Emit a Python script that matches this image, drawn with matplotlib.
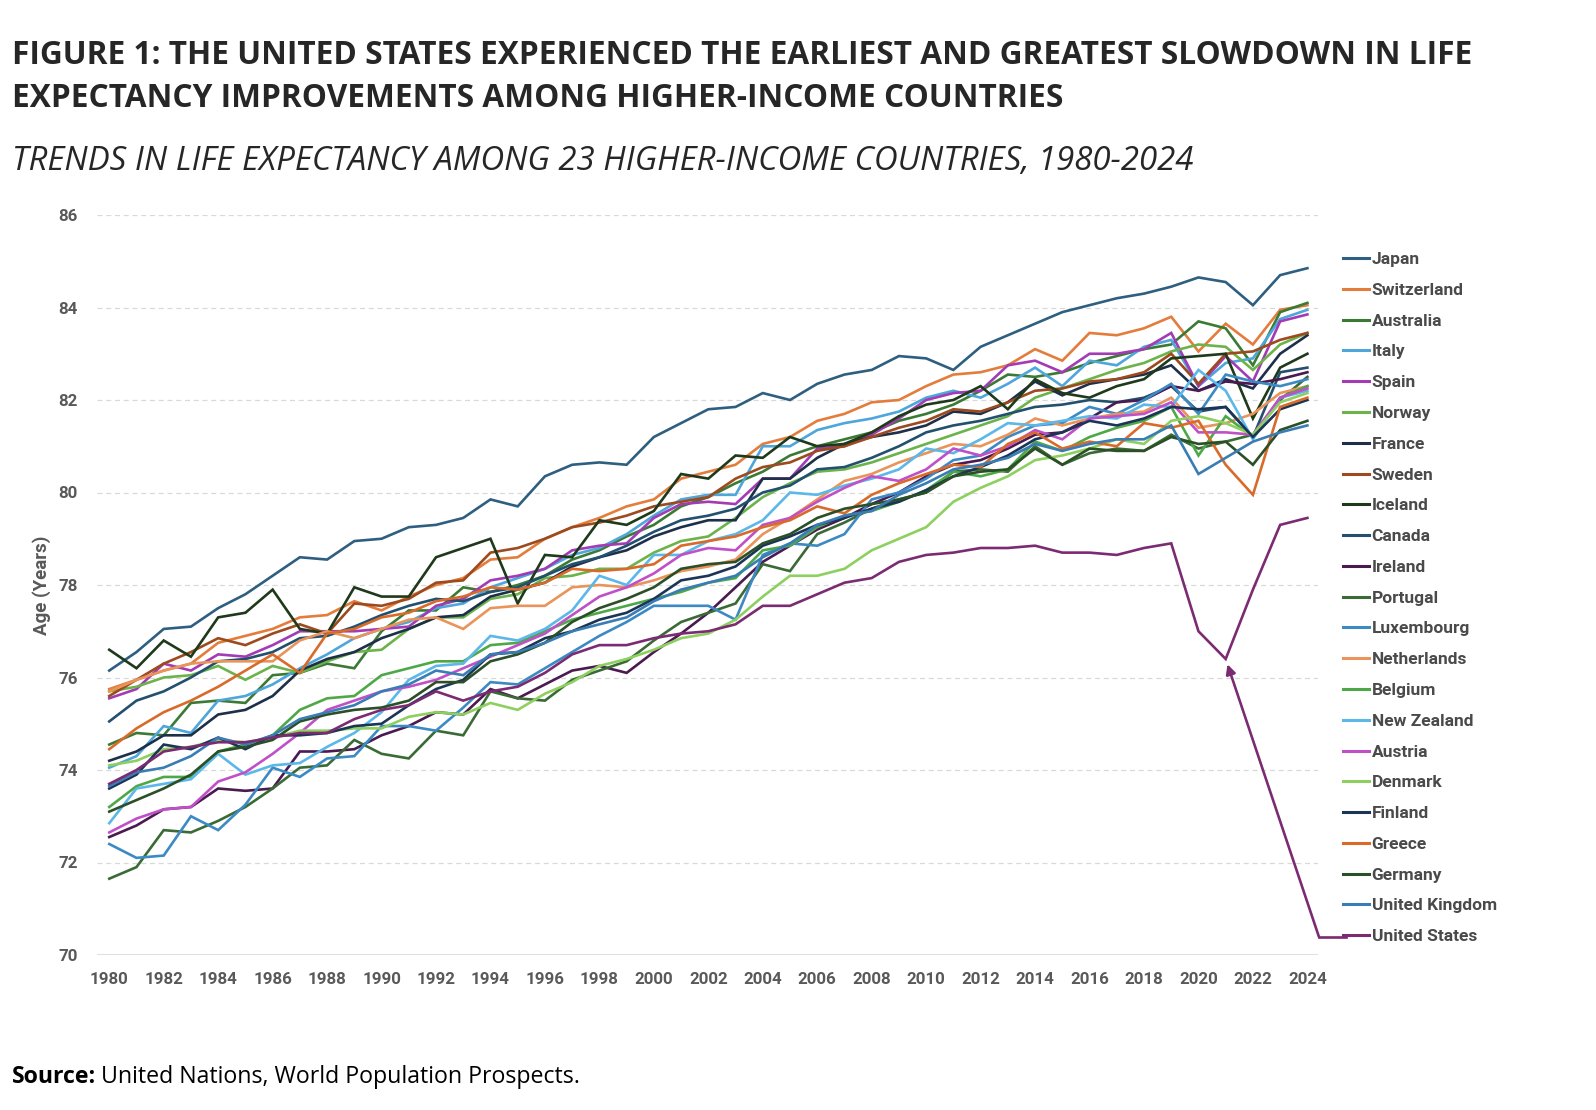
import numpy as np
import matplotlib
matplotlib.use('Agg')
import matplotlib.pyplot as plt
from matplotlib.lines import Line2D

# Years on the x axis
years = list(range(1980, 2025))

# Life expectancy per country, 1980-2024
japan = [76.15, 76.55, 77.05, 77.10, 77.50, 77.80, 78.20, 78.60, 78.55, 78.95,
         79.00, 79.25, 79.30, 79.45, 79.85, 79.70, 80.35, 80.60, 80.65, 80.60,
         81.20, 81.50, 81.80, 81.85, 82.15, 82.00, 82.35, 82.55, 82.65, 82.95,
         82.90, 82.65, 83.15, 83.40, 83.65, 83.90, 84.05, 84.20, 84.30, 84.45,
         84.65, 84.55, 84.05, 84.70, 84.85]
switzerland = [75.75, 75.95, 76.15, 76.30, 76.75, 76.90, 77.05, 77.30, 77.35, 77.65,
               77.45, 77.75, 78.00, 78.15, 78.55, 78.60, 79.00, 79.25, 79.45, 79.70,
               79.85, 80.30, 80.45, 80.60, 81.05, 81.20, 81.55, 81.70, 81.95, 82.00,
               82.30, 82.55, 82.60, 82.75, 83.10, 82.85, 83.45, 83.40, 83.55, 83.80,
               83.05, 83.65, 83.20, 83.95, 84.05]
australia = [74.55, 74.80, 74.75, 75.45, 75.50, 75.45, 76.05, 76.10, 76.30, 76.20,
             77.00, 77.45, 77.45, 77.95, 77.85, 78.00, 78.20, 78.55, 78.75, 79.05,
             79.30, 79.70, 79.90, 80.20, 80.45, 80.80, 81.00, 81.15, 81.30, 81.55,
             81.70, 81.90, 82.20, 82.55, 82.50, 82.60, 82.80, 82.95, 83.10, 83.20,
             83.70, 83.55, 82.75, 83.90, 84.10]
italy = [74.05, 74.30, 74.95, 74.80, 75.50, 75.60, 75.85, 76.20, 76.50, 76.85,
         77.05, 77.20, 77.50, 77.60, 77.95, 78.15, 78.35, 78.65, 78.80, 79.10,
         79.50, 79.85, 79.95, 79.95, 81.00, 81.00, 81.35, 81.50, 81.60, 81.75,
         82.05, 82.20, 82.05, 82.35, 82.70, 82.30, 82.85, 82.75, 83.15, 83.30,
         82.30, 82.80, 82.90, 83.75, 83.95]
spain = [75.55, 75.75, 76.30, 76.15, 76.50, 76.45, 76.70, 77.00, 77.00, 77.00,
         77.05, 77.10, 77.55, 77.70, 78.10, 78.20, 78.35, 78.75, 78.85, 78.90,
         79.45, 79.75, 79.80, 79.75, 80.30, 80.30, 80.95, 81.00, 81.25, 81.60,
         82.00, 82.15, 82.20, 82.75, 82.85, 82.60, 83.00, 83.00, 83.10, 83.45,
         82.30, 82.95, 82.40, 83.70, 83.85]
norway = [75.70, 75.80, 76.00, 76.05, 76.25, 75.95, 76.25, 76.10, 76.35, 76.55,
          76.60, 77.05, 77.30, 77.30, 77.70, 77.80, 78.15, 78.20, 78.35, 78.35,
          78.70, 78.95, 79.05, 79.45, 79.90, 80.20, 80.45, 80.50, 80.65, 80.85,
          81.05, 81.25, 81.45, 81.65, 82.05, 82.25, 82.45, 82.65, 82.80, 83.05,
          83.20, 83.15, 82.65, 83.20, 83.45]
france = [74.20, 74.40, 74.75, 74.75, 75.20, 75.30, 75.60, 76.15, 76.40, 76.55,
          76.85, 77.05, 77.30, 77.35, 77.75, 77.90, 78.05, 78.40, 78.60, 78.75,
          79.05, 79.25, 79.40, 79.40, 80.30, 80.30, 80.75, 81.05, 81.20, 81.30,
          81.45, 81.75, 81.70, 81.95, 82.40, 82.10, 82.35, 82.45, 82.55, 82.75,
          82.20, 82.45, 82.25, 83.00, 83.40]
sweden = [75.60, 75.95, 76.30, 76.55, 76.85, 76.70, 76.95, 77.15, 76.95, 77.60,
          77.55, 77.70, 78.05, 78.10, 78.70, 78.80, 79.00, 79.25, 79.35, 79.50,
          79.70, 79.80, 79.90, 80.30, 80.55, 80.65, 80.90, 81.00, 81.20, 81.40,
          81.55, 81.80, 81.75, 81.95, 82.20, 82.25, 82.40, 82.45, 82.60, 83.00,
          82.35, 83.00, 83.05, 83.30, 83.45]
iceland = [76.60, 76.20, 76.80, 76.45, 77.30, 77.40, 77.90, 77.05, 76.95, 77.95,
           77.75, 77.75, 78.60, 78.80, 79.00, 77.60, 78.65, 78.60, 79.40, 79.30,
           79.60, 80.40, 80.30, 80.80, 80.75, 81.20, 81.00, 81.05, 81.30, 81.65,
           81.90, 82.00, 82.30, 81.80, 82.45, 82.15, 82.05, 82.30, 82.45, 82.90,
           82.95, 83.00, 81.60, 82.70, 83.00]
canada = [75.05, 75.50, 75.70, 76.00, 76.35, 76.40, 76.55, 76.85, 76.90, 77.10,
          77.35, 77.55, 77.70, 77.65, 77.85, 77.95, 78.20, 78.45, 78.60, 78.85,
          79.15, 79.40, 79.50, 79.65, 80.00, 80.15, 80.50, 80.55, 80.75, 81.00,
          81.30, 81.45, 81.55, 81.70, 81.85, 81.90, 82.00, 81.95, 82.05, 82.30,
          81.75, 81.85, 81.20, 82.60, 82.70]
ireland = [72.55, 72.80, 73.15, 73.20, 73.60, 73.55, 73.60, 74.40, 74.40, 74.45,
           74.75, 74.95, 75.25, 75.20, 75.75, 75.55, 75.85, 76.15, 76.25, 76.10,
           76.55, 76.95, 77.40, 77.95, 78.50, 78.85, 79.20, 79.45, 79.75, 80.00,
           80.35, 80.60, 80.70, 80.95, 81.25, 81.30, 81.60, 81.95, 82.00, 82.30,
           82.20, 82.40, 82.35, 82.45, 82.60]
portugal = [71.65, 71.90, 72.70, 72.65, 72.90, 73.20, 73.60, 74.05, 74.10, 74.65,
            74.35, 74.25, 74.85, 74.75, 75.70, 75.55, 75.50, 75.95, 76.15, 76.35,
            76.80, 77.20, 77.40, 77.60, 78.45, 78.30, 79.10, 79.35, 79.65, 79.85,
            80.00, 80.45, 80.50, 80.45, 81.00, 80.60, 80.85, 80.95, 80.90, 81.25,
            80.95, 81.10, 81.25, 82.00, 82.50]
luxembourg = [72.40, 72.10, 72.15, 73.00, 72.70, 73.25, 74.05, 73.85, 74.25, 74.30,
              74.95, 74.95, 74.85, 75.35, 75.90, 75.85, 76.20, 76.55, 76.90, 77.20,
              77.55, 77.55, 77.55, 77.25, 78.65, 78.90, 78.85, 79.10, 79.85, 80.00,
              80.30, 80.70, 80.80, 81.20, 81.45, 81.50, 81.85, 81.70, 82.00, 82.35,
              81.70, 82.55, 82.40, 82.30, 82.45]
netherlands = [75.70, 75.95, 76.15, 76.30, 76.35, 76.35, 76.35, 76.80, 77.00, 76.85,
               77.05, 77.25, 77.30, 77.05, 77.50, 77.55, 77.55, 77.95, 78.00, 77.95,
               78.10, 78.30, 78.40, 78.55, 79.10, 79.45, 79.85, 80.25, 80.40, 80.65,
               80.85, 81.05, 81.00, 81.25, 81.60, 81.45, 81.60, 81.70, 81.75, 82.05,
               81.40, 81.50, 81.70, 82.15, 82.30]
belgium = [73.20, 73.65, 73.85, 73.85, 74.40, 74.55, 74.75, 75.30, 75.55, 75.60,
           76.05, 76.20, 76.35, 76.35, 76.70, 76.75, 77.00, 77.25, 77.40, 77.55,
           77.70, 77.85, 78.05, 78.15, 78.75, 78.85, 79.25, 79.50, 79.60, 79.80,
           80.05, 80.45, 80.35, 80.50, 81.10, 80.90, 81.20, 81.40, 81.55, 81.85,
           80.80, 81.65, 81.20, 82.05, 82.30]
new_zealand = [72.85, 73.60, 73.70, 73.80, 74.35, 73.90, 74.10, 74.15, 74.50, 74.80,
               75.25, 75.95, 76.25, 76.30, 76.90, 76.80, 77.05, 77.45, 78.20, 78.00,
               78.65, 78.65, 78.95, 79.10, 79.40, 80.00, 79.95, 80.15, 80.30, 80.50,
               80.95, 80.85, 81.15, 81.50, 81.45, 81.55, 81.65, 81.60, 81.90, 81.85,
               82.65, 82.20, 81.15, 82.05, 82.20]
austria = [72.65, 72.95, 73.15, 73.20, 73.75, 73.95, 74.35, 74.80, 75.30, 75.50,
           75.70, 75.80, 75.95, 76.20, 76.45, 76.70, 76.95, 77.35, 77.75, 77.95,
           78.25, 78.65, 78.80, 78.75, 79.30, 79.45, 79.80, 80.10, 80.35, 80.25,
           80.50, 80.95, 80.80, 81.00, 81.35, 81.15, 81.60, 81.65, 81.70, 81.95,
           81.30, 81.30, 81.25, 82.05, 82.25]
denmark = [74.10, 74.20, 74.45, 74.50, 74.65, 74.60, 74.70, 74.85, 74.85, 74.90,
           74.90, 75.15, 75.25, 75.20, 75.45, 75.30, 75.65, 75.90, 76.25, 76.40,
           76.60, 76.85, 76.95, 77.25, 77.75, 78.20, 78.20, 78.35, 78.75, 79.00,
           79.25, 79.80, 80.10, 80.35, 80.70, 80.80, 80.95, 81.15, 81.05, 81.55,
           81.65, 81.50, 81.25, 81.95, 82.15]
finland = [73.60, 73.90, 74.55, 74.45, 74.70, 74.45, 74.75, 74.75, 74.80, 74.95,
           75.00, 75.40, 75.75, 75.95, 76.50, 76.55, 76.85, 77.00, 77.25, 77.40,
           77.70, 78.10, 78.20, 78.40, 78.85, 79.05, 79.30, 79.45, 79.65, 79.80,
           80.05, 80.35, 80.55, 80.80, 81.15, 81.30, 81.55, 81.45, 81.60, 81.85,
           81.80, 81.85, 81.20, 81.80, 82.00]
greece = [74.45, 74.90, 75.25, 75.50, 75.80, 76.15, 76.50, 76.10, 76.95, 77.05,
          77.30, 77.40, 77.65, 77.75, 77.95, 77.90, 78.05, 78.35, 78.30, 78.35,
          78.45, 78.85, 78.95, 79.05, 79.25, 79.40, 79.70, 79.55, 79.95, 80.20,
          80.40, 80.60, 80.55, 81.05, 81.30, 80.95, 81.10, 81.00, 81.50, 81.40,
          81.55, 80.60, 79.95, 81.85, 82.05]
germany = [73.10, 73.35, 73.60, 73.90, 74.40, 74.50, 74.65, 75.05, 75.20, 75.30,
           75.35, 75.50, 75.90, 75.90, 76.35, 76.50, 76.75, 77.20, 77.50, 77.70,
           77.95, 78.35, 78.45, 78.50, 78.90, 79.10, 79.45, 79.65, 79.75, 79.85,
           80.00, 80.35, 80.45, 80.50, 80.95, 80.60, 80.95, 80.90, 80.90, 81.20,
           81.05, 81.10, 80.60, 81.35, 81.55]
united_kingdom = [73.65, 73.95, 74.05, 74.30, 74.70, 74.55, 74.75, 75.10, 75.25, 75.40,
                  75.70, 75.85, 76.15, 76.05, 76.50, 76.55, 76.75, 77.00, 77.15, 77.30,
                  77.65, 77.90, 78.05, 78.20, 78.60, 78.90, 79.30, 79.50, 79.60, 79.95,
                  80.20, 80.50, 80.60, 80.75, 81.05, 80.90, 81.05, 81.15, 81.15, 81.45,
                  80.40, 80.75, 81.10, 81.30, 81.45]
united_states = [73.70, 74.00, 74.40, 74.50, 74.60, 74.60, 74.70, 74.80, 74.80, 75.10,
                 75.30, 75.40, 75.70, 75.50, 75.70, 75.80, 76.10, 76.50, 76.70, 76.70,
                 76.85, 76.95, 77.00, 77.15, 77.55, 77.55, 77.80, 78.05, 78.15, 78.50,
                 78.65, 78.70, 78.80, 78.80, 78.85, 78.70, 78.70, 78.65, 78.80, 78.90,
                 77.00, 76.40, 77.90, 79.30, 79.45]

countries = ['Japan', 'Switzerland', 'Australia', 'Italy', 'Spain', 'Norway',
             'France', 'Sweden', 'Iceland', 'Canada', 'Ireland', 'Portugal',
             'Luxembourg', 'Netherlands', 'Belgium', 'New Zealand', 'Austria',
             'Denmark', 'Finland', 'Greece', 'Germany', 'United Kingdom',
             'United States']
series = [japan, switzerland, australia, italy, spain, norway, france, sweden,
          iceland, canada, ireland, portugal, luxembourg, netherlands, belgium,
          new_zealand, austria, denmark, finland, greece, germany,
          united_kingdom, united_states]
colors = ['#2E5E80', '#E47C3C', '#3B7A35', '#4EA6DA', '#A23BB4', '#6BB34A',
          '#1E2F4A', '#9C4A1E', '#1E3A1A', '#22506E', '#4A1A50', '#3A6B35',
          '#3C8AC4', '#E8945A', '#4FA848', '#5BB8E8', '#C050C8', '#8DD060',
          '#1C3556', '#D96A2A', '#2B4F26', '#3A7DB5', '#7B2B72']

W, H = 1596, 1110
fig = plt.figure(figsize=(W / 100, H / 100), dpi=100)
fig.patch.set_facecolor('white')

# plot area in pixels
left, right, top, bottom = 97, 1318, 215, 955
ax = fig.add_axes([left / W, 1 - bottom / H, (right - left) / W, (bottom - top) / H])

for name, vals, c in zip(countries, series, colors):
    ax.plot(years, vals, color=c, lw=1.9, label=name, solid_joinstyle='miter')

ax.set_xlim(1979.55, 2024.39)
ax.set_ylim(70, 86)
ax.set_xticks(range(1980, 2025, 2))
ax.set_yticks(range(70, 87, 2))
for v in range(72, 87, 2):
    ax.axhline(v, color='#d9d9d9', lw=0.9, ls=(0, (4, 3)), zorder=0)
ax.axhline(70, color='#d9d9d9', lw=1.2, zorder=0)
for s in ax.spines.values():
    s.set_visible(False)
ax.tick_params(length=0, colors='#595959', labelsize=12.2)
ax.tick_params(axis='x', pad=12)
ax.tick_params(axis='y', pad=14)
for lab in ax.get_xticklabels() + ax.get_yticklabels():
    lab.set_fontfamily('Roboto')
    lab.set_fontweight('bold')

ax.set_ylabel('Age (Years)', fontsize=13.5, fontweight='bold', color='#595959',
              family='Roboto')
ax.yaxis.set_label_coords(-0.038, 0.5)

leg = ax.legend(loc='upper left', bbox_to_anchor=(1343 / W, 1 - 252 / H),
                bbox_transform=fig.transFigure, frameon=False,
                prop=dict(family='Roboto', weight='bold', size=12.5),
                handlelength=1.5, handletextpad=0.15, labelspacing=0.9,
                borderpad=0, borderaxespad=0)
for t in leg.get_texts():
    t.set_color('#4a4a4a')
for h in leg.legend_handles:
    h.set_linewidth(2.2)

# leader arrow from the US legend entry to the 2021 dip
us_col = colors[-1]
ax.annotate('', xy=(2021, 76.4), xycoords='data',
            xytext=(1319 / W, 1 - 937 / H), textcoords='figure fraction',
            arrowprops=dict(arrowstyle='-|>', color=us_col, lw=1.9,
                            shrinkA=0, shrinkB=4, mutation_scale=14))
fig.add_artist(Line2D([1319 / W, 1346 / W], [1 - 937 / H, 1 - 937 / H],
                      transform=fig.transFigure, color=us_col, lw=1.9))

renderer = fig.canvas.get_renderer()


def fit(t, target):
    w = t.get_window_extent(renderer).width
    t.set_fontsize(t.get_fontsize() * target / w)


t1 = fig.text(12 / W, 1 - 64 / H,
              'FIGURE 1: THE UNITED STATES EXPERIENCED THE EARLIEST AND GREATEST SLOWDOWN IN LIFE',
              family='Open Sans', fontweight='bold', fontsize=20, color='#262626',
              va='baseline')
fit(t1, 1459)
t2 = fig.text(12 / W, 1 - 107 / H,
              'EXPECTANCY IMPROVEMENTS AMONG HIGHER-INCOME COUNTRIES',
              family='Open Sans', fontweight='bold', fontsize=t1.get_fontsize(),
              color='#262626', va='baseline')
t3 = fig.text(12 / W, 1 - 170 / H,
              'TRENDS IN LIFE EXPECTANCY AMONG 23 HIGHER-INCOME COUNTRIES, 1980-2024',
              family='Open Sans', style='italic', fontsize=20, color='#262626',
              va='baseline')
fit(t3, 1183)

# source line: bold lead-in followed by the regular text
src_size = 16.7
s1 = fig.text(12 / W, 1 - 1083 / H, 'Source:', family='Open Sans', fontweight='bold',
              fontsize=src_size, color='#000000', va='baseline')
s1w = s1.get_window_extent(renderer).width
s2 = fig.text((12 + s1w + 5) / W, 1 - 1083 / H, 'United Nations, World Population Prospects.',
              family='Open Sans', fontsize=src_size, color='#000000', va='baseline')

fig.savefig('out.png', dpi=100, facecolor='white')
